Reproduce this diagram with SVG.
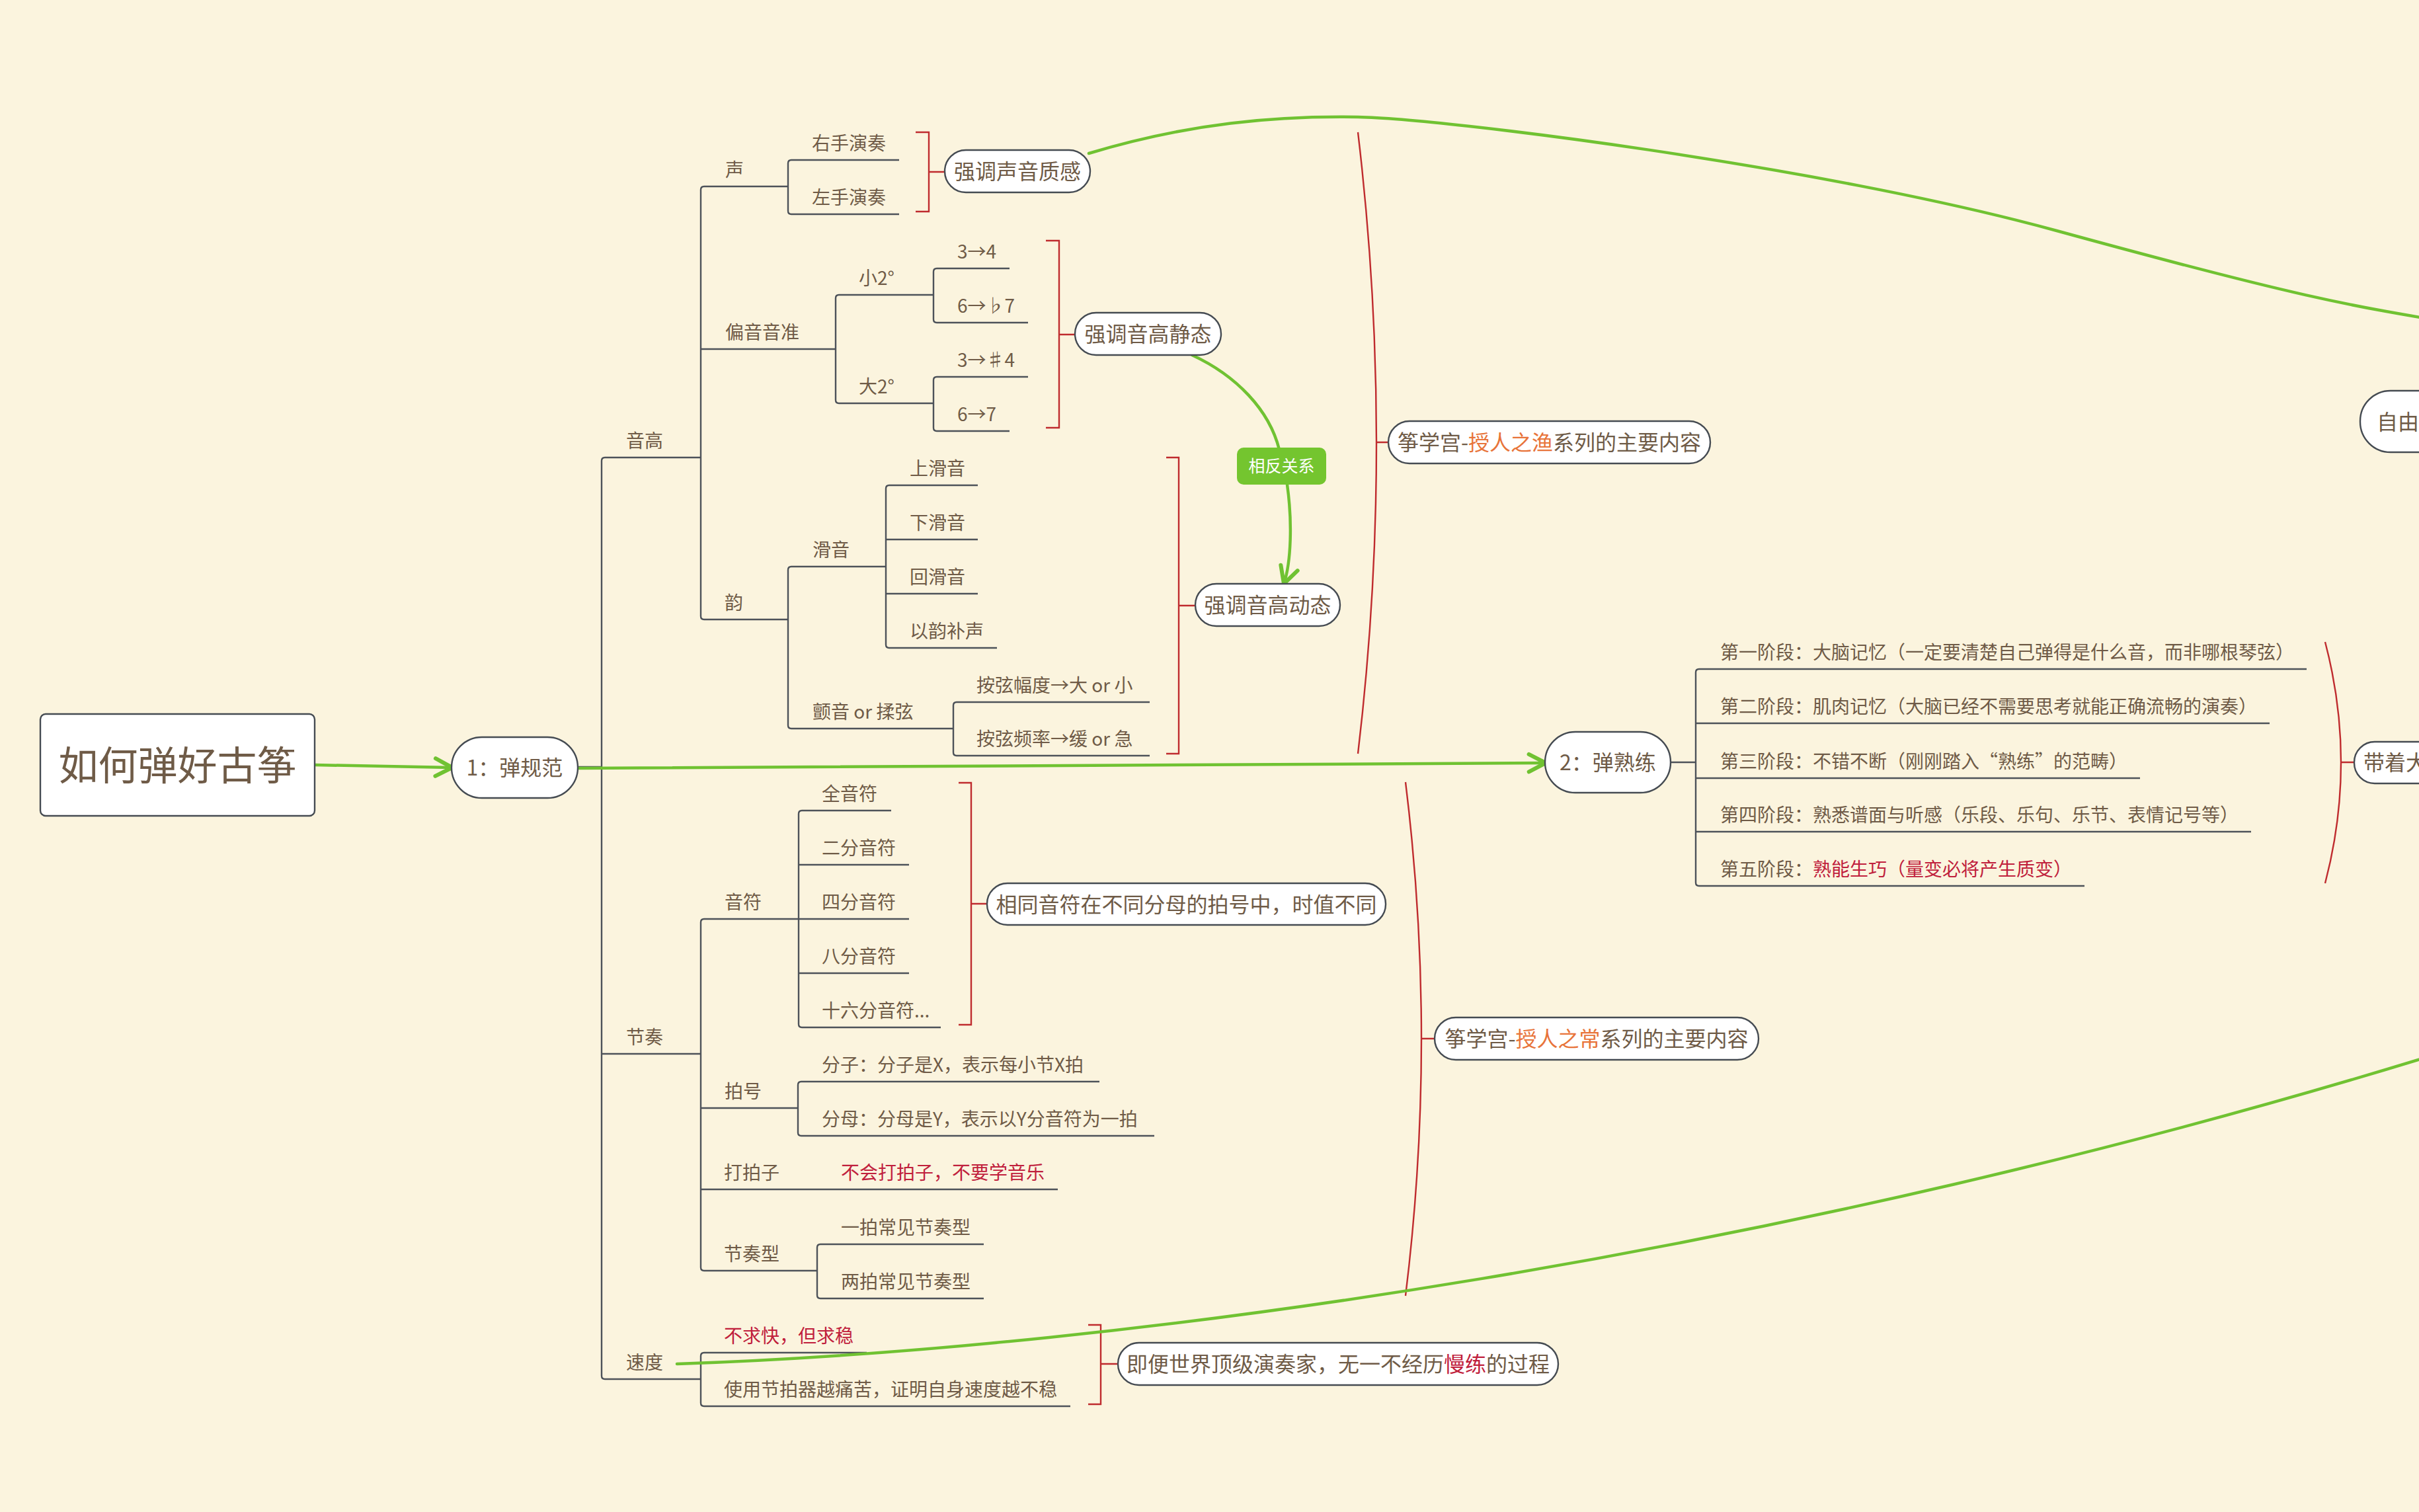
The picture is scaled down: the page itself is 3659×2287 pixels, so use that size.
<svg xmlns="http://www.w3.org/2000/svg" width="3659" height="2287" viewBox="0 0 3659 2287">
<defs>
<style>
.bg{fill:#FBF4DE}
.ln{fill:none;stroke:#4D5259;stroke-width:2.4;stroke-linejoin:round}
.br{fill:none;stroke:#BF2B2E;stroke-width:2.4}
.rel{fill:none;stroke:#70C232;stroke-width:4.5;stroke-linecap:round}
.nd{fill:#FFFFFF;stroke:#454B52;stroke-width:2.4}
.t{font-family:"Noto Sans CJK SC","DejaVu Sans",sans-serif;fill:#6F5B47}
.lab{font-size:28px}
.nt{font-size:32px;text-anchor:middle}
.red{fill:#C0203C}
.org{fill:#E8743A}
</style>
<marker id="arr" markerUnits="userSpaceOnUse" markerWidth="40" markerHeight="40" viewBox="-25 -15 30 30" refX="0" refY="0" orient="auto" overflow="visible">
<path d="M-19,-10 L0,0 L-19,10" fill="none" stroke="#70C232" stroke-width="4.5" stroke-linecap="round" stroke-linejoin="round"/>
</marker>
</defs>
<rect class="bg" x="0" y="0" width="3659" height="2287"/>

<g id="connectors">
<path class="ln" d="M874,1160 H910 M1060,692 H915 Q910,692 910,697 V2081 Q910,2086 915,2086 H1060 M910,1594 H1060"/>
<path class="ln" d="M1192,282 H1065 Q1060,282 1060,287 V932 Q1060,937 1065,937 H1192 M1060,528 H1264"/>
<path class="ln" d="M1360,242 H1197 Q1192,242 1192,247 V319 Q1192,324 1197,324 H1360"/>
<path class="ln" d="M1412,446 H1269 Q1264,446 1264,451 V605 Q1264,610 1269,610 H1412"/>
<path class="ln" d="M1527,406 H1417 Q1412,406 1412,411 V483 Q1412,488 1417,488 H1555"/>
<path class="ln" d="M1555,570 H1417 Q1412,570 1412,575 V647 Q1412,652 1417,652 H1527"/>
<path class="ln" d="M1340,857 H1197 Q1192,857 1192,862 V1097 Q1192,1102 1197,1102 H1442"/>
<path class="ln" d="M1479,734 H1345 Q1340,734 1340,739 V975 Q1340,980 1345,980 H1508 M1340,816 H1479 M1340,898 H1479"/>
<path class="ln" d="M1739,1062 H1447 Q1442,1062 1442,1067 V1138 Q1442,1143 1447,1143 H1739"/>
<path class="ln" d="M1208,1390 H1065 Q1060,1390 1060,1395 V1917 Q1060,1922 1065,1922 H1236 M1060,1676 H1207 M1060,1799 H1600"/>
<path class="ln" d="M1348,1226 H1213 Q1208,1226 1208,1231 V1549 Q1208,1554 1213,1554 H1423 M1208,1308 H1375 M1208,1390 H1375 M1208,1472 H1375"/>
<path class="ln" d="M1663,1636 H1212 Q1207,1636 1207,1641 V1713 Q1207,1718 1212,1718 H1746"/>
<path class="ln" d="M1488,1882 H1241 Q1236,1882 1236,1887 V1959 Q1236,1964 1241,1964 H1488"/>
<path class="ln" d="M1311,2046 H1065 Q1060,2046 1060,2051 V2122 Q1060,2127 1065,2127 H1619"/>
<path class="ln" d="M2527,1153 H2565 M3489,1012 H2570 Q2565,1012 2565,1017 V1335 Q2565,1340 2570,1340 H3153 M2565,1094 H3433 M2565,1177 H3237 M2565,1258 H3405"/>

<path class="br" d="M1385,200 H1405 V320 H1385 M1405,260 H1429"/>
<path class="br" d="M1582,364 H1602 V647 H1582 M1602,506 H1626"/>
<path class="br" d="M1764,692 H1783 V1140 H1764 M1783,916 H1808"/>
<path class="br" d="M1450,1184 H1469 V1550 H1450 M1469,1367 H1493"/>
<path class="br" d="M1646,2004 H1665 V2124 H1646 M1665,2063 H1691"/>
<path class="br" d="M2054,200 Q2110,670 2054,1140 M2082,669 H2100"/>
<path class="br" d="M2126,1183 Q2174,1571 2126,1960 M2150,1571 H2170"/>
<path class="br" d="M3517,971 Q3565,1153 3517,1336 M3541,1153 H3561"/>

<path class="rel" d="M477,1157 L684,1161" marker-end="url(#arr)"/>
<path class="rel" d="M874,1162 L2338,1154" marker-end="url(#arr)"/>
<path class="rel" d="M1647,232 C1800,186 1930,175 2054,177 C2178,179 2750,250 3111,349 C3472,448 3550,462 3720,490"/>
<path class="rel" d="M1024,2063 C1700,2040 2700,1900 3700,1590"/>
<path class="rel" d="M1803,537 C1870,568 1920,620 1935,680"/>
<path class="rel" d="M1947,733 C1955,790 1953,850 1942,883" marker-end="url(#arr)"/>
</g>

<g id="root">
<rect class="nd" x="61" y="1080" width="415" height="154" rx="8" stroke-width="3.5"/>
<text class="t" x="268.5" y="1180" font-size="60" text-anchor="middle">如何弹好古筝</text>
</g>
<g id="n1">
<rect class="nd" x="683" y="1115" width="191" height="92" rx="46"/>
<text class="t nt" x="778.5" y="1173">1：弹规范</text>
</g>
<g id="n2">
<rect class="nd" x="2337" y="1107" width="190" height="92" rx="46"/>
<text class="t nt" x="2432" y="1165">2：弹熟练</text>
</g>
<g id="n-sheng-sum">
<rect class="nd" x="1429" y="227" width="220" height="64" rx="32"/>
<text class="t nt" x="1539" y="271">强调声音质感</text>
</g>
<g id="n-static">
<rect class="nd" x="1626" y="473" width="221" height="64" rx="32"/>
<text class="t nt" x="1736.5" y="517">强调音高静态</text>
</g>
<g id="n-dynamic">
<rect class="nd" x="1808" y="883" width="219" height="64" rx="32"/>
<text class="t nt" x="1917.5" y="927">强调音高动态</text>
</g>
<g id="rel-label">
<rect x="1871" y="677" width="135" height="56" rx="10" fill="#74C52F"/>
<text class="t" x="1938.5" y="714" font-size="25" text-anchor="middle" style="fill:#FFFFFF">相反关系</text>
</g>
<g id="n-yu">
<rect class="nd" x="2100" y="637" width="487" height="64" rx="32"/>
<text class="t nt" x="2343.5" y="681">筝学宫-<tspan class="org">授人之渔</tspan>系列的主要内容</text>
</g>
<g id="n-notes-sum">
<rect class="nd" x="1493" y="1336" width="603" height="63" rx="31"/>
<text class="t nt" x="1794.5" y="1380">相同音符在不同分母的拍号中，时值不同</text>
</g>
<g id="n-chang">
<rect class="nd" x="2170" y="1539" width="490" height="64" rx="32"/>
<text class="t nt" x="2415" y="1583">筝学宫-<tspan class="org">授人之常</tspan>系列的主要内容</text>
</g>
<g id="n-slow">
<rect class="nd" x="1691" y="2031" width="666" height="64" rx="32"/>
<text class="t nt" x="2024" y="2075">即便世界顶级演奏家，无一不经历<tspan class="red">慢练</tspan>的过程</text>
</g>
<g id="n-daizhe">
<rect class="nd" x="3561" y="1122" width="450" height="63" rx="31"/>
<text class="t" x="3575" y="1165" font-size="32">带着大</text>
</g>
<g id="n-ziyou">
<rect class="nd" x="3570" y="591" width="450" height="93" rx="46"/>
<text class="t" x="3595" y="650" font-size="32">自由</text>
</g>

<g id="labels" class="t lab">
<text x="947" y="677">音高</text>
<text x="1097" y="267">声</text>
<text x="1228" y="227">右手演奏</text>
<text x="1228" y="309">左手演奏</text>
<text x="1097" y="513">偏音音准</text>
<text x="1299" y="431">小2°</text>
<text x="1448" y="391">3→4</text>
<text x="1448" y="473">6→♭7</text>
<text x="1299" y="595">大2°</text>
<text x="1448" y="555">3→♯4</text>
<text x="1448" y="637">6→7</text>
<text x="1096" y="922">韵</text>
<text x="1229" y="842">滑音</text>
<text x="1376" y="719">上滑音</text>
<text x="1376" y="801">下滑音</text>
<text x="1376" y="883">回滑音</text>
<text x="1376" y="965">以韵补声</text>
<text x="1229" y="1087">颤音 or 揉弦</text>
<text x="1477" y="1047">按弦幅度→大 or 小</text>
<text x="1477" y="1128">按弦频率→缓 or 急</text>
<text x="947" y="1579">节奏</text>
<text x="1096" y="1375">音符</text>
<text x="1243" y="1211">全音符</text>
<text x="1243" y="1293">二分音符</text>
<text x="1243" y="1375">四分音符</text>
<text x="1243" y="1457">八分音符</text>
<text x="1243" y="1539">十六分音符...</text>
<text x="1096" y="1661">拍号</text>
<text x="1243" y="1621">分子：分子是X，表示每小节X拍</text>
<text x="1243" y="1703">分母：分母是Y，表示以Y分音符为一拍</text>
<text x="1095" y="1784">打拍子</text>
<text x="1272" y="1784" class="red">不会打拍子，不要学音乐</text>
<text x="1095" y="1907">节奏型</text>
<text x="1272" y="1867">一拍常见节奏型</text>
<text x="1272" y="1949">两拍常见节奏型</text>
<text x="947" y="2071">速度</text>
<text x="1095" y="2031" class="red">不求快，但求稳</text>
<text x="1095" y="2112">使用节拍器越痛苦，证明自身速度越不稳</text>
<text x="2602" y="997">第一阶段：大脑记忆（一定要清楚自己弹得是什么音，而非哪根琴弦）</text>
<text x="2602" y="1079">第二阶段：肌肉记忆（大脑已经不需要思考就能正确流畅的演奏）</text>
<text x="2602" y="1162">第三阶段：不错不断（刚刚踏入“熟练”的范畴）</text>
<text x="2602" y="1243">第四阶段：熟悉谱面与听感（乐段、乐句、乐节、表情记号等）</text>
<text x="2602" y="1325">第五阶段：<tspan class="red">熟能生巧（量变必将产生质变）</tspan></text>
</g>
</svg>
